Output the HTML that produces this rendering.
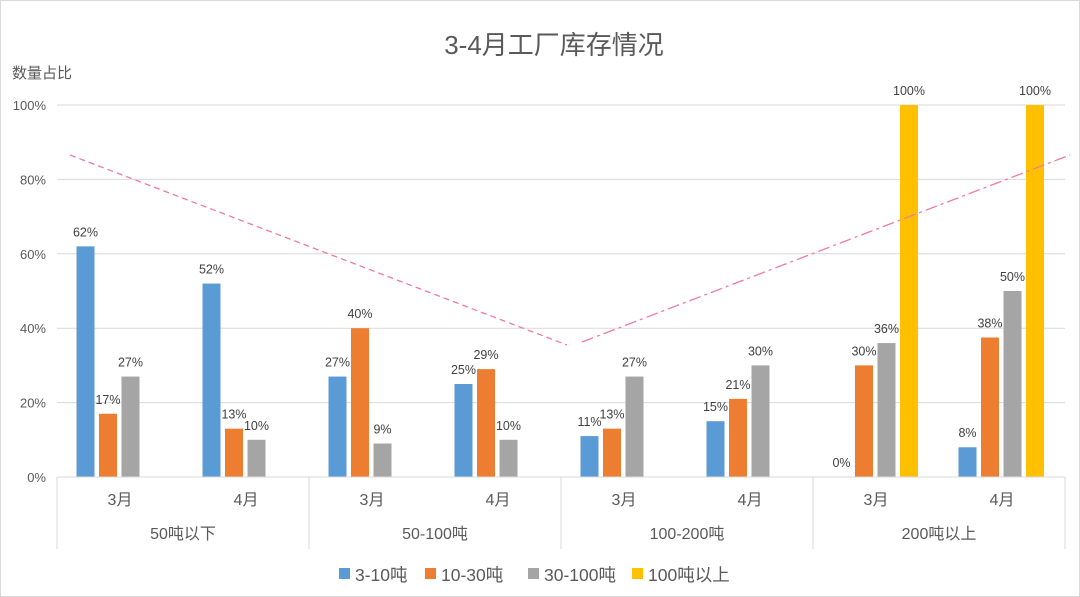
<!DOCTYPE html>
<html><head><meta charset="utf-8"><style>
body{margin:0;background:#fff}
svg{display:block;font-family:"Liberation Sans","Noto Sans CJK SC",sans-serif}
</style></head><body>
<svg id="c" width="1080" height="597">
<rect x="0.5" y="0.5" width="1079" height="596" fill="#fff" stroke="#d9d9d9"/>
<text x="554" y="54" text-anchor="middle" font-size="26" fill="#595959">3-4月工厂库存情况</text>
<text x="12" y="78" font-size="15" fill="#595959">数量占比</text>
<g id="grid"></g><g id="bars"></g><g id="xaxis"></g>
<polyline points="70,155 567,345" fill="none" stroke="#f07aa0" stroke-width="1.3" stroke-dasharray="6,4"/>
<line x1="582" y1="342" x2="1070" y2="155" stroke="#f07aa0" stroke-width="1.3" stroke-dasharray="12,4,3,4"/>
<g id="legend"></g>
</svg>
<script>
const groups=["50吨以下","50-100吨","100-200吨","200吨以上"];
const months=["3月","4月"];
const seriesNames=["3-10吨","10-30吨","30-100吨","100吨以上"];
const s1=[62,52,27,25,11,15,0,8];
const s2=[17,13,40,29,13,21,30,37.5];
const s3=[27,10,9,10,27,30,36,50];
const s4=[0,0,0,0,0,0,100,100];
const yTicks=[0,20,40,60,80,100];
const colors=["#5b9bd5","#ed7d31","#a5a5a5","#ffc000"];
const NS="http://www.w3.org/2000/svg";
const X0=57,X1=1065,Y0=477,Y100=105;
const y=v=>Y0-(Y0-Y100)*v/100;
const sub=(X1-X0)/8;
function mk(t,a,p){const e=document.createElementNS(NS,t);for(const k in a)e.setAttribute(k,a[k]);(p||document.getElementById('c')).appendChild(e);return e;}
const grid=document.getElementById('grid');
yTicks.forEach(t=>{
 const l=mk('line',{x1:X0,x2:X1,y1:y(t),y2:y(t),stroke:'#d9d9d9'},grid);
 
 
 const tx=mk('text',{x:46,y:y(t)+5,'text-anchor':'end','font-size':13,fill:'#595959'},grid);tx.textContent=t+'%';
 
 
});
const bars=document.getElementById('bars');
[s1,s2,s3,s4].forEach((s,si)=>{
 s.forEach((v,i)=>{
  const cx=X0+sub*(i+0.5);const bx=cx-45+si*22.5+1.5;
  const r=mk('rect',{x:bx,y:y(v),width:18,height:Y0-y(v),fill:colors[si]},bars);
  
  
  if(v>0||si===0){
   const t=mk('text',{x:bx+9,y:y(v)-10,'text-anchor':'middle','font-size':12.5,fill:'#404040'},bars);
   t.textContent=Math.round(v)+'%';
   
   
  }
 });
});
const xa=document.getElementById('xaxis');
const ax=mk('line',{x1:X0,x2:X1,y1:Y0,y2:Y0,stroke:'#d9d9d9'},xa);


for(let g=0;g<=4;g++){
 const l=mk('line',{x1:X0+g*sub*2,x2:X0+g*sub*2,y1:Y0,y2:549,stroke:'#d9d9d9'},xa);
 
 
}
for(let i=0;i<8;i++){
 const t=mk('text',{x:X0+sub*(i+0.5),y:505,'text-anchor':'middle','font-size':16,fill:'#595959'},xa);t.textContent=months[i%2];
 
 
}
groups.forEach((g,i)=>{
 const t=mk('text',{x:X0+sub*(2*i+1),y:539,'text-anchor':'middle','font-size':16,fill:'#595959'},xa);t.textContent=g;
 
 
});
const lg=document.getElementById('legend');
const lx=[339,425,528,632];
seriesNames.forEach((n,i)=>{
 const r=mk('rect',{x:lx[i],y:568,width:11,height:11,fill:colors[i]},lg);
 
 
 const t=mk('text',{x:lx[i]+16,y:581,'font-size':17.5,fill:'#595959'},lg);t.textContent=n;
 
 
});
</script>
</body></html>
